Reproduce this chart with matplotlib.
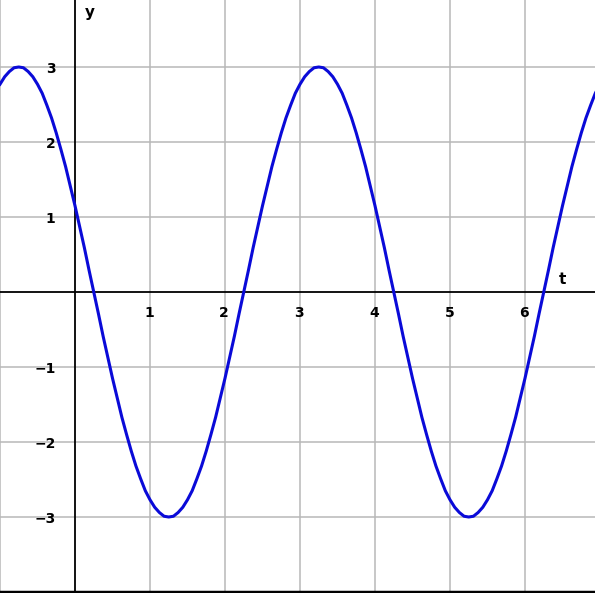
import matplotlib.pyplot as plt

# Sample points (t step 0.0625 from -1 to 7)
t_vals = [-1 + 0.0625 * k for k in range(129)]
y_vals = [
    2.77, 2.87, 2.94, 2.99, 3.00, 2.99, 2.94, 2.87, 2.77, 2.65, 2.49, 2.32, 2.12, 1.90, 1.67, 1.41,
    1.15, 0.87, 0.59, 0.29, 0.00, -0.29, -0.59, -0.87, -1.15, -1.41, -1.67, -1.90, -2.12, -2.32, -2.49, -2.65,
    -2.77, -2.87, -2.94, -2.99, -3.00, -2.99, -2.94, -2.87, -2.77, -2.65, -2.49, -2.32, -2.12, -1.90, -1.67, -1.41,
    -1.15, -0.87, -0.59, -0.29, 0.00, 0.29, 0.59, 0.87, 1.15, 1.41, 1.67, 1.90, 2.12, 2.32, 2.49, 2.65,
    2.77, 2.87, 2.94, 2.99, 3.00, 2.99, 2.94, 2.87, 2.77, 2.65, 2.49, 2.32, 2.12, 1.90, 1.67, 1.41,
    1.15, 0.87, 0.59, 0.29, 0.00, -0.29, -0.59, -0.87, -1.15, -1.41, -1.67, -1.90, -2.12, -2.32, -2.49, -2.65,
    -2.77, -2.87, -2.94, -2.99, -3.00, -2.99, -2.94, -2.87, -2.77, -2.65, -2.49, -2.32, -2.12, -1.90, -1.67, -1.41,
    -1.15, -0.87, -0.59, -0.29, 0.00, 0.29, 0.59, 0.87, 1.15, 1.41, 1.67, 1.90, 2.12, 2.32, 2.49, 2.65,
    2.77,
]

x_ticks = [1, 2, 3, 4, 5, 6]
y_ticks = [3, 2, 1, -1, -2, -3]

# Pixel geometry: origin at (75, 292), 75 px per unit
W, H = 595, 593
x0, y0, unit = 75, 292, 75
xmin, xmax = -x0 / unit, (W - x0) / unit
ymax, ymin = y0 / unit, -(H - y0) / unit

fig = plt.figure(figsize=(W / 100, H / 100), dpi=100)
ax = fig.add_axes([0, 0, 1, 1])
ax.set_xlim(xmin, xmax)
ax.set_ylim(ymin, ymax)
for s in ax.spines.values():
    s.set_visible(False)
ax.set_xticks([])
ax.set_yticks([])

# grid
for gx in range(-1, 8):
    if gx != 0:
        ax.axvline(gx, color='#b8b8b8', lw=1.1, zorder=1)
for gy in range(-4, 4):
    if gy != 0:
        ax.axhline(gy, color='#b8b8b8', lw=1.1, zorder=1)

# axes
ax.axvline(0, color='black', lw=1.3, zorder=2)
ax.axhline(0, color='black', lw=1.3, zorder=2)
ax.axhline(ymin + 0.02, color='black', lw=2.5, zorder=2)

# curve
ax.plot(t_vals, y_vals, color='#0a0ad8', lw=2.2, zorder=3)

fs = 10
for xt in x_ticks:
    ax.text(xt - 0.01, -0.28, str(xt), ha='center', va='center',
            fontsize=fs, fontweight='bold')
for yt in y_ticks:
    lab = str(yt).replace('-', '\u2212')
    ax.text(-0.26, yt - 0.03, lab, ha='right', va='center',
            fontsize=fs, fontweight='bold')

ax.text(0.2, 3.72, 'y', ha='center', va='center', fontsize=fs + 1, fontweight='bold')
ax.text(6.5, 0.17, 't', ha='center', va='center', fontsize=fs + 1, fontweight='bold')

fig.savefig('out.png', dpi=100)
